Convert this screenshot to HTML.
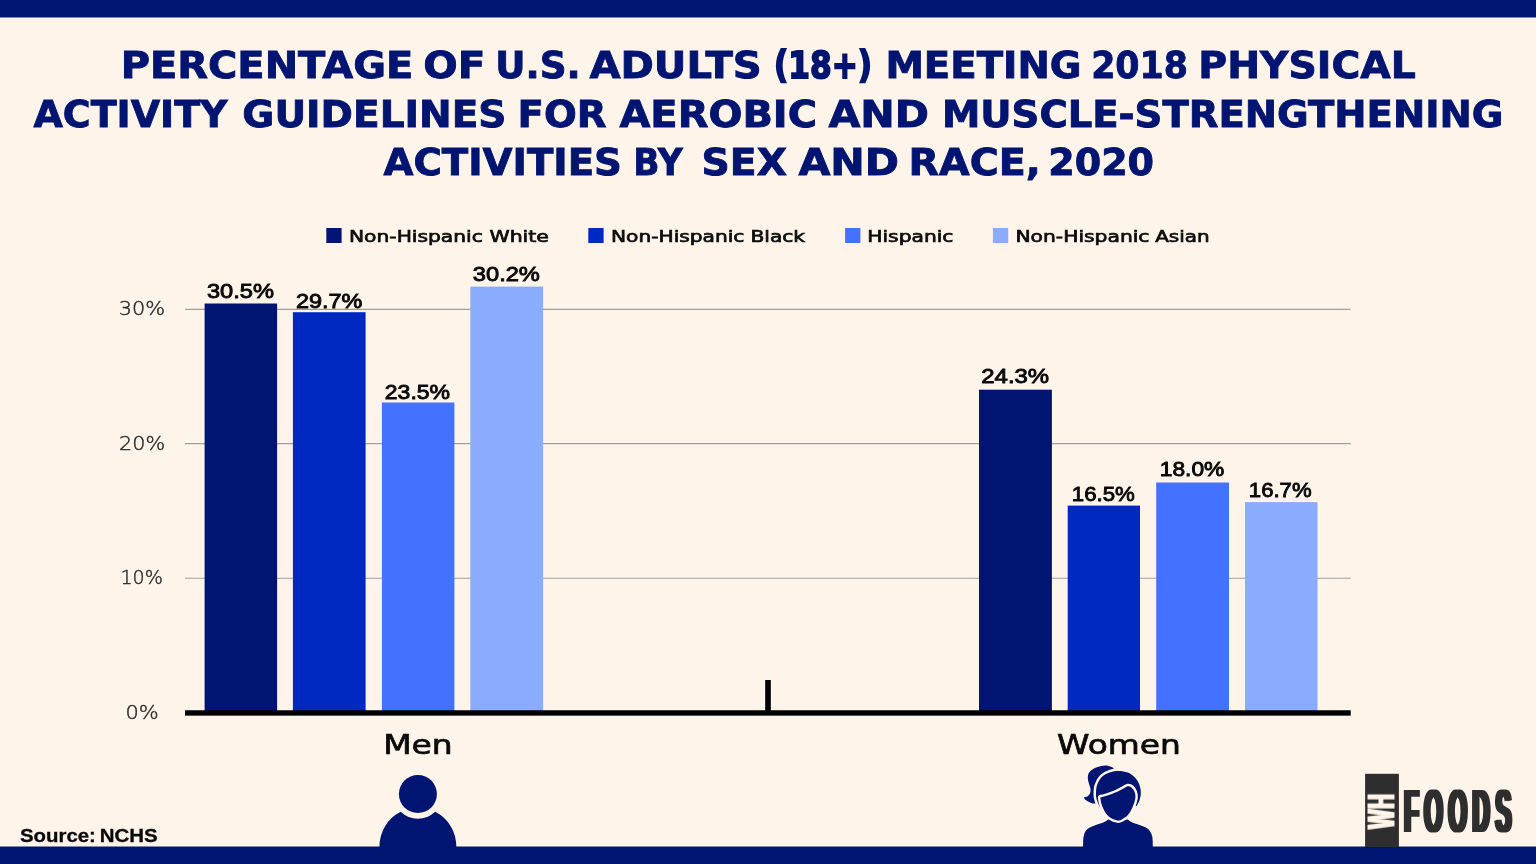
<!DOCTYPE html>
<html lang="en">
<head>
<meta charset="utf-8">
<title>Percentage of U.S. adults meeting 2018 physical activity guidelines</title>
<style>
  html,body{margin:0;padding:0;background:#fef4ea;overflow:hidden;}
  svg{display:block;}
  text{white-space:pre;}
  .title{font-family:"DejaVu Sans","Liberation Sans",sans-serif;font-weight:700;font-size:37.77px;fill:#001472;stroke:#001472;stroke-width:0.9px;}
  .titleb{font-family:"DejaVu Sans","Liberation Sans",sans-serif;font-weight:700;font-size:37.18px;fill:#001472;stroke:#001472;stroke-width:1.9px;}
  .leg{font-family:"DejaVu Sans","Liberation Sans",sans-serif;font-weight:400;font-size:16.56px;fill:#0d0d0d;stroke:#0d0d0d;stroke-width:0.7px;}
  .val{font-family:"Liberation Sans","DejaVu Sans",sans-serif;font-weight:400;font-size:20.82px;fill:#0a0a0a;stroke:#0a0a0a;stroke-width:0.9px;}
  .ytick{font-family:"DejaVu Sans","Liberation Sans",sans-serif;font-weight:200;font-size:18.89px;fill:#2b2b2b;stroke:#2b2b2b;stroke-width:0.45px;}
  .cat{font-family:"DejaVu Sans","Liberation Sans",sans-serif;font-weight:400;font-size:27.1px;fill:#0a0a0a;stroke:#0a0a0a;stroke-width:0.7px;}
  .src{font-family:"Liberation Sans","DejaVu Sans",sans-serif;font-weight:700;font-size:18.16px;fill:#0a0a0a;stroke:#0a0a0a;stroke-width:0.3px;}
</style>
</head>
<body>
<svg width="1536" height="864" viewBox="0 0 1536 864">
  <rect x="0" y="0" width="1536" height="864" fill="#fef4ea"/>
  <!-- top / bottom bands -->
  <rect x="0" y="0" width="1536" height="17.5" fill="#001472"/>
  <rect x="0" y="846.5" width="1536" height="17.5" fill="#001472"/>

  <!-- title -->
  <g id="title">
    <text class="title" y="78.3"><tspan x="120.74" textLength="292.5" lengthAdjust="spacingAndGlyphs">PERCENTAGE</tspan> <tspan x="423.38" textLength="62.14" lengthAdjust="spacingAndGlyphs">OF</tspan> <tspan x="495.34" textLength="85.34" lengthAdjust="spacingAndGlyphs">U.S.</tspan> <tspan x="589.45" textLength="172.31" lengthAdjust="spacingAndGlyphs">ADULTS</tspan> <tspan class="titleb" y="78.05" x="774.09" textLength="97.99" lengthAdjust="spacingAndGlyphs">(18+)</tspan> <tspan x="885.4" textLength="196.08" lengthAdjust="spacingAndGlyphs">MEETING</tspan> <tspan x="1091.14" textLength="96.8" lengthAdjust="spacingAndGlyphs">2018</tspan> <tspan x="1198.36" textLength="217.39" lengthAdjust="spacingAndGlyphs">PHYSICAL</tspan></text>
    <text class="title" y="126.65"><tspan x="33.43" textLength="194.14" lengthAdjust="spacingAndGlyphs">ACTIVITY</tspan> <tspan x="242.39" textLength="264.11" lengthAdjust="spacingAndGlyphs">GUIDELINES</tspan> <tspan x="517.53" textLength="88.9" lengthAdjust="spacingAndGlyphs">FOR</tspan> <tspan x="619.46" textLength="197.59" lengthAdjust="spacingAndGlyphs">AEROBIC</tspan> <tspan x="828.44" textLength="100.63" lengthAdjust="spacingAndGlyphs">AND</tspan> <tspan x="941.93" textLength="561.58" lengthAdjust="spacingAndGlyphs">MUSCLE-STRENGTHENING</tspan></text>
    <text class="title" y="175.45"><tspan x="383.45" textLength="238.53" lengthAdjust="spacingAndGlyphs">ACTIVITIES</tspan> <tspan x="633.33" textLength="49.37" lengthAdjust="spacingAndGlyphs">BY</tspan> <tspan x="701.59" textLength="85.31" lengthAdjust="spacingAndGlyphs">SEX</tspan> <tspan x="798.44" textLength="100.63" lengthAdjust="spacingAndGlyphs">AND</tspan> <tspan x="908.62" textLength="132.24" lengthAdjust="spacingAndGlyphs">RACE,</tspan> <tspan x="1048.24" textLength="105.83" lengthAdjust="spacingAndGlyphs">2020</tspan></text>
  </g>

  <!-- legend -->
  <g id="legend">
    <rect x="326.3" y="228" width="15.3" height="15" fill="#001472"/>
    <rect x="588.3" y="228" width="15.3" height="15" fill="#0029c2"/>
    <rect x="845.1" y="228" width="15.3" height="15" fill="#4272ff"/>
    <rect x="992.9" y="228" width="15.3" height="15" fill="#8aabff"/>
    <text class="leg" y="241.65"><tspan x="348.99" textLength="133.87" lengthAdjust="spacingAndGlyphs">Non-Hispanic</tspan> <tspan x="489.43" textLength="59.51" lengthAdjust="spacingAndGlyphs">White</tspan></text>
    <text class="leg" y="241.65"><tspan x="611.02" textLength="133.41" lengthAdjust="spacingAndGlyphs">Non-Hispanic</tspan> <tspan x="750.45" textLength="54.63" lengthAdjust="spacingAndGlyphs">Black</tspan></text>
    <text class="leg" y="241.65"><tspan x="867.31" textLength="86.15" lengthAdjust="spacingAndGlyphs">Hispanic</tspan></text>
    <text class="leg" y="241.65"><tspan x="1015.43" textLength="134.1" lengthAdjust="spacingAndGlyphs">Non-Hispanic</tspan> <tspan x="1155.24" textLength="54.41" lengthAdjust="spacingAndGlyphs">Asian</tspan></text>
  </g>

  <!-- gridlines -->
  <g stroke="#a59e98" stroke-width="1.1">
    <line x1="185" y1="309.4" x2="1350.7" y2="309.4"/>
    <line x1="185" y1="443.6" x2="1350.7" y2="443.6"/>
    <line x1="185" y1="578.2" x2="1350.7" y2="578.2"/>
  </g>

  <!-- y axis labels -->
  <g id="yticks">
    <text class="ytick" y="315.17"><tspan x="118.87" textLength="46.26" lengthAdjust="spacingAndGlyphs">30%</tspan></text>
    <text class="ytick" y="449.77"><tspan x="119.08" textLength="45.98" lengthAdjust="spacingAndGlyphs">20%</tspan></text>
    <text class="ytick" y="584.38"><tspan x="120.41" textLength="42.37" lengthAdjust="spacingAndGlyphs">10%</tspan></text>
    <text class="ytick" y="718.88"><tspan x="125.42" textLength="33.27" lengthAdjust="spacingAndGlyphs">0%</tspan></text>
  </g>

  <!-- bars: men -->
  <rect x="204.6" y="303.5" width="72.5" height="408" fill="#001472"/>
  <rect x="292.9" y="312.2" width="72.7" height="399" fill="#0029c2"/>
  <rect x="381.9" y="402.5" width="72.5" height="309" fill="#4272ff"/>
  <rect x="470.3" y="286.6" width="72.8" height="425" fill="#8aabff"/>
  <!-- bars: women -->
  <rect x="979" y="389.7" width="72.9" height="322" fill="#001472"/>
  <rect x="1067.7" y="505.6" width="72.3" height="206" fill="#0029c2"/>
  <rect x="1156.2" y="482.5" width="72.8" height="229" fill="#4272ff"/>
  <rect x="1245" y="502.1" width="72.5" height="209" fill="#8aabff"/>

  <!-- axis -->
  <rect x="185" y="710.25" width="1165.7" height="5.4" fill="#000"/>
  <rect x="765.2" y="680" width="5.6" height="32" fill="#000"/>

  <!-- value labels -->
  <g id="values">
    <text class="val" y="297.65"><tspan x="206.98" textLength="66.99" lengthAdjust="spacingAndGlyphs">30.5%</tspan></text>
    <text class="val" y="308.05"><tspan x="295.99" textLength="66.37" lengthAdjust="spacingAndGlyphs">29.7%</tspan></text>
    <text class="val" y="398.95"><tspan x="384.84" textLength="65.23" lengthAdjust="spacingAndGlyphs">23.5%</tspan></text>
    <text class="val" y="280.65"><tspan x="472.86" textLength="67.0" lengthAdjust="spacingAndGlyphs">30.2%</tspan></text>
    <text class="val" y="383.3"><tspan x="981.31" textLength="67.79" lengthAdjust="spacingAndGlyphs">24.3%</tspan></text>
    <text class="val" y="501.45"><tspan x="1071.85" textLength="62.99" lengthAdjust="spacingAndGlyphs">16.5%</tspan></text>
    <text class="val" y="476.45"><tspan x="1159.82" textLength="64.51" lengthAdjust="spacingAndGlyphs">18.0%</tspan></text>
    <text class="val" y="496.8"><tspan x="1248.85" textLength="62.72" lengthAdjust="spacingAndGlyphs">16.7%</tspan></text>
  </g>

  <!-- category labels -->
    <text class="cat" y="753.65"><tspan x="383.19" textLength="69.4" lengthAdjust="spacingAndGlyphs">Men</tspan></text>
    <text class="cat" y="753.65"><tspan x="1057.09" textLength="123.67" lengthAdjust="spacingAndGlyphs">Women</tspan></text>

  <!-- source -->
    <text class="src" y="841.75"><tspan x="19.98" textLength="75.93" lengthAdjust="spacingAndGlyphs">Source:</tspan> <tspan x="99.79" textLength="57.88" lengthAdjust="spacingAndGlyphs">NCHS</tspan></text>

  <!-- man icon -->
  <g id="man" fill="#001472">
    <circle cx="417.9" cy="794" r="19"/>
    <path d="M400.7 811.87 A24.8 24.8 0 0 0 435.1 811.87 A38.4 38.4 0 0 1 456.3 847.2 L379.5 847.2 A38.4 38.4 0 0 1 400.7 811.87 Z"/>
  </g>

  <!-- woman icon -->
  <g id="woman" fill="#001472">
    <path d="M1116.00 771.00 C1115.45 770.43 1113.25 768.17 1112.70 767.60 C1111.75 767.27 1108.92 765.87 1107.00 765.60 C1105.08 765.33 1103.37 765.50 1101.20 766.00 C1099.03 766.50 1096.07 767.43 1094.00 768.60 C1091.93 769.77 1089.82 771.27 1088.80 773.00 C1087.78 774.73 1087.80 777.00 1087.90 779.00 C1088.00 781.00 1088.97 783.33 1089.40 785.00 C1089.83 786.67 1090.40 787.57 1090.50 789.00 C1090.60 790.43 1090.48 792.40 1090.00 793.60 C1089.52 794.80 1088.67 795.57 1087.60 796.20 C1086.53 796.83 1084.27 797.20 1083.60 797.40 C1084.02 797.88 1084.87 799.38 1086.10 800.30 C1087.33 801.22 1089.60 802.37 1091.00 802.90 C1092.40 803.43 1093.00 803.32 1094.50 803.50 C1096.00 803.68 1099.08 803.92 1100.00 804.00 C1100.67 801.67 1103.33 792.33 1104.00 790.00 C1106.00 786.83 1114.00 774.17 1116.00 771.00 Z"/>
    <path d="M1083.10 847.00 C1083.12 845.92 1083.08 842.35 1083.20 840.50 C1083.32 838.65 1083.42 837.45 1083.80 835.90 C1084.18 834.35 1084.58 832.55 1085.50 831.20 C1086.42 829.85 1087.70 828.80 1089.30 827.80 C1090.90 826.80 1092.68 826.12 1095.10 825.20 C1097.52 824.28 1101.63 823.27 1103.80 822.30 C1105.97 821.33 1107.38 819.88 1108.10 819.40 C1111.38 819.40 1124.52 819.40 1127.80 819.40 C1128.47 819.88 1129.73 821.33 1131.80 822.30 C1133.87 823.27 1137.78 824.28 1140.20 825.20 C1142.62 826.12 1144.67 826.80 1146.30 827.80 C1147.93 828.80 1149.03 829.85 1150.00 831.20 C1150.97 832.55 1151.66 834.35 1152.10 835.90 C1152.54 837.45 1152.53 838.65 1152.65 840.50 C1152.77 842.35 1152.78 845.92 1152.80 847.00 C1141.18 847.00 1094.72 847.00 1083.10 847.00 Z"/>
    <path d="M1099.30 806.20 C1098.90 805.17 1097.45 801.97 1096.90 800.00 C1096.35 798.03 1095.98 796.87 1096.00 794.40 C1096.02 791.93 1096.00 788.13 1097.00 785.20 C1098.00 782.27 1099.77 778.97 1102.00 776.80 C1104.23 774.63 1107.60 773.18 1110.40 772.20 C1113.20 771.22 1115.88 770.83 1118.80 770.90 C1121.72 770.97 1125.10 771.37 1127.90 772.60 C1130.70 773.83 1133.62 776.07 1135.60 778.30 C1137.58 780.53 1138.93 783.45 1139.80 786.00 C1140.67 788.55 1140.87 791.18 1140.80 793.60 C1140.73 796.02 1140.10 798.43 1139.40 800.50 C1138.70 802.57 1137.07 805.08 1136.60 806.00 C1130.38 806.03 1105.52 806.17 1099.30 806.20 Z" stroke="#fef4ea" stroke-width="5" paint-order="stroke" stroke-linejoin="round"/>
    <path d="M1100.30 797.40 C1101.08 797.22 1103.32 796.77 1105.00 796.30 C1106.68 795.83 1108.10 795.48 1110.40 794.60 C1112.70 793.72 1116.53 792.07 1118.80 791.00 C1121.07 789.93 1122.48 788.98 1124.00 788.20 C1125.52 787.42 1126.65 786.42 1127.90 786.30 C1129.15 786.18 1130.38 786.53 1131.50 787.50 C1132.62 788.47 1133.97 790.32 1134.60 792.10 C1135.23 793.88 1135.65 795.67 1135.30 798.20 C1134.95 800.73 1133.73 804.50 1132.50 807.30 C1131.27 810.10 1129.68 812.98 1127.90 815.00 C1126.12 817.02 1123.55 818.50 1121.80 819.40 C1120.05 820.30 1119.27 820.67 1117.40 820.40 C1115.53 820.13 1112.67 819.22 1110.60 817.80 C1108.53 816.38 1106.50 814.15 1105.00 811.90 C1103.50 809.65 1102.38 806.72 1101.60 804.30 C1100.82 801.88 1100.52 798.55 1100.30 797.40 Z" stroke="#fef4ea" stroke-width="5" paint-order="stroke" stroke-linejoin="round"/>
  </g>

  <!-- logo -->
  <g id="logo">
    <defs>
      <filter id="fatF" x="-5%" y="-5%" width="110%" height="110%"><feMorphology operator="dilate" radius="9.0 0.0"/></filter>
      <filter id="fatW" x="-5%" y="-5%" width="110%" height="110%"><feMorphology operator="dilate" radius="5.0 0.0"/></filter>
    </defs>
    <rect x="1365.1" y="773.8" width="33.8" height="73.2" fill="#2e2e2e"/>
    <g transform="translate(1394.5 828.8) rotate(-90) scale(0.25)"><g filter="url(#fatW)"><text transform="scale(2.08 4.0)" x="0" y="0" font-family="Liberation Sans, sans-serif" font-weight="700" font-size="39.2" letter-spacing="1.5" fill="#fef4ea">WH</text></g></g>
    <g transform="translate(1404.2 831.6) scale(0.25)"><g filter="url(#fatF)"><text transform="scale(1.56 4.0)" x="0" y="0" font-family="Liberation Sans, sans-serif" font-weight="700" font-size="60.9" letter-spacing="14.5" fill="#2e2e2e">FOODS</text></g></g>
  </g>
</svg>
</body>
</html>
